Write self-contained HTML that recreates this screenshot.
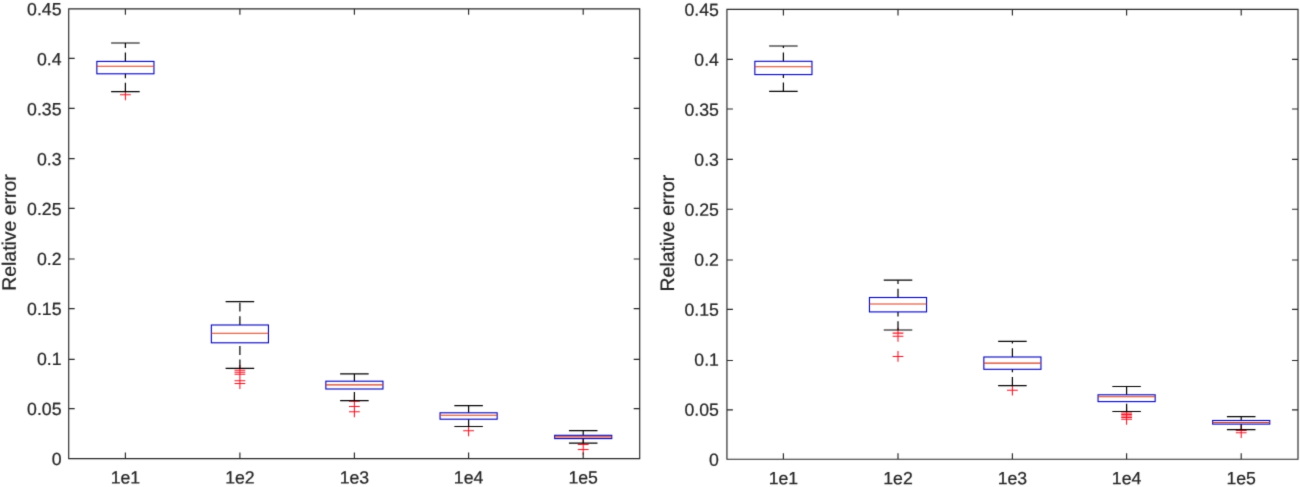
<!DOCTYPE html><html><head><meta charset="utf-8"><title>Relative error boxplots</title><style>html,body{margin:0;padding:0;background:#fff;}body{width:1300px;height:487px;overflow:hidden;}svg{display:block;}text{font-family:"Liberation Sans", Arial, Helvetica, sans-serif;fill:#242424;stroke:#242424;stroke-width:0.22px;}</style></head><body>
<svg width="1300" height="487" viewBox="0 0 1300 487">
<defs><filter id="b" x="0" y="0" width="1300" height="487" filterUnits="userSpaceOnUse" color-interpolation-filters="sRGB"><feColorMatrix in="SourceGraphic" type="matrix" values="0.299 0.587 0.114 0 0 -0.168736 -0.331264 0.5 0 0.50196 0.5 -0.418688 -0.081312 0 0.50196 0 0 0 1 0" result="ycc"/><feConvolveMatrix in="ycc" order="3" kernelMatrix="0.0144 0.0912 0.0144 0.0912 0.5776 0.0912 0.0144 0.0912 0.0144" edgeMode="duplicate" preserveAlpha="true" result="yb"/><feConvolveMatrix in="ycc" order="3" kernelMatrix="0.0625 0.1250 0.0625 0.1250 0.2500 0.1250 0.0625 0.1250 0.0625" edgeMode="duplicate" preserveAlpha="true" result="cb"/><feColorMatrix in="yb" type="matrix" values="1 0 0 0 0 0 0 0 0 0 0 0 0 0 0 0 0 0 1 0" result="y1"/><feColorMatrix in="cb" type="matrix" values="0 0 0 0 0 0 1 0 0 0 0 0 1 0 0 0 0 0 1 0" result="c1"/><feComposite in="y1" in2="c1" operator="arithmetic" k1="0" k2="1" k3="1" k4="0" result="m"/><feColorMatrix in="m" type="matrix" values="1 0 1.402 0 -0.70375 1 -0.344136 -0.714136 0 0.53121 1 1.772 0 0 -0.88947 0 0 0 1 0"/></filter></defs>
<g filter="url(#b)">
<rect x="0" y="0" width="1300" height="487" fill="#fff"/>
<g fill="none">
<path d="M120 94.8H130.8M125.4 89.4V100.2" stroke="#ff1020" stroke-width="1.05"/>
<path d="M234.5 370.3H245.3M239.9 364.9V375.7M234.5 372.2H245.3M239.9 366.8V377.6M234.5 374.3H245.3M239.9 368.9V379.7M234.5 380.8H245.3M239.9 375.4V386.2M234.5 383.5H245.3M239.9 378.1V388.9" stroke="#ff1020" stroke-width="1.05"/>
<path d="M349 401.2H359.8M354.4 395.8V406.6M349 406.5H359.8M354.4 401.1V411.9M349 411.8H359.8M354.4 406.4V417.2" stroke="#ff1020" stroke-width="1.05"/>
<path d="M463.2 430.8H474M468.6 425.4V436.2" stroke="#ff1020" stroke-width="1.05"/>
<path d="M577.8 444.5H588.6M583.2 439.1V449.9M577.8 449.4H588.6M583.2 444V454.8" stroke="#ff1020" stroke-width="1.05"/>
<path d="M125.4 61.4V43" stroke="#000" stroke-width="1.2" stroke-dasharray="8.8 4.6"/>
<path d="M125.4 91.6V73.8" stroke="#000" stroke-width="1.2" stroke-dasharray="8.8 4.6"/>
<path d="M111.12 43H139.68M111.12 91.6H139.68" stroke="#000" stroke-width="1.2"/>
<rect x="96.85" y="61.4" width="57.1" height="12.4" stroke="#0000c0" stroke-width="1.1"/>
<path d="M96.85 66.3H153.95" stroke="#dc3c1c" stroke-width="1.1"/>
<path d="M239.9 325V301.6" stroke="#000" stroke-width="1.2" stroke-dasharray="8.8 4.6"/>
<path d="M239.9 368.3V342.8" stroke="#000" stroke-width="1.2" stroke-dasharray="8.8 4.6"/>
<path d="M225.62 301.6H254.18M225.62 368.3H254.18" stroke="#000" stroke-width="1.2"/>
<rect x="211.35" y="325" width="57.1" height="17.8" stroke="#0000c0" stroke-width="1.1"/>
<path d="M211.35 333.3H268.45" stroke="#dc3c1c" stroke-width="1.1"/>
<path d="M354.4 381.2V373.9" stroke="#000" stroke-width="1.2" stroke-dasharray="8.8 4.6"/>
<path d="M354.4 400.7V389" stroke="#000" stroke-width="1.2" stroke-dasharray="8.8 4.6"/>
<path d="M340.12 373.9H368.67M340.12 400.7H368.67" stroke="#000" stroke-width="1.2"/>
<rect x="325.85" y="381.2" width="57.1" height="7.8" stroke="#0000c0" stroke-width="1.1"/>
<path d="M325.85 384.9H382.95" stroke="#dc3c1c" stroke-width="1.1"/>
<path d="M468.6 412.8V405.6" stroke="#000" stroke-width="1.2" stroke-dasharray="8.8 4.6"/>
<path d="M468.6 426.5V419.2" stroke="#000" stroke-width="1.2" stroke-dasharray="8.8 4.6"/>
<path d="M454.33 405.6H482.88M454.33 426.5H482.88" stroke="#000" stroke-width="1.2"/>
<rect x="440.05" y="412.8" width="57.1" height="6.4" stroke="#0000c0" stroke-width="1.1"/>
<path d="M440.05 415.2H497.15" stroke="#dc3c1c" stroke-width="1.1"/>
<path d="M583.2 435.3V430.7" stroke="#000" stroke-width="1.2" stroke-dasharray="8.8 4.6"/>
<path d="M583.2 443.1V438.6" stroke="#000" stroke-width="1.2" stroke-dasharray="8.8 4.6"/>
<path d="M568.93 430.7H597.48M568.93 443.1H597.48" stroke="#000" stroke-width="1.2"/>
<rect x="554.65" y="435.3" width="57.1" height="3.3" stroke="#0000c0" stroke-width="1.1"/>
<path d="M554.65 436.9H611.75" stroke="#dc3c1c" stroke-width="1.1"/>
<path d="M68.7 8.8H639.7V458.6H68.7ZM68.7 408.62H74.7M639.7 408.62H633.7M68.7 359.38H74.7M639.7 359.38H633.7M68.7 308.62H74.7M639.7 308.62H633.7M68.7 258.95H74.7M639.7 258.95H633.7M68.7 208.41H74.7M639.7 208.41H633.7M68.7 158.62H74.7M639.7 158.62H633.7M68.7 108.34H74.7M639.7 108.34H633.7M68.7 58.41H74.7M639.7 58.41H633.7M125.4 458.6V452.6M125.4 8.8V14.8M239.9 458.6V452.6M239.9 8.8V14.8M354.4 458.6V452.6M354.4 8.8V14.8M468.6 458.6V452.6M468.6 8.8V14.8M583.2 458.6V452.6M583.2 8.8V14.8" stroke="#262626" stroke-width="1.15"/>
</g>
<text x="61.5" y="465.04" font-size="17.7" text-anchor="end" transform="matrix(1 0.001 0 1 0 -0.06)">0</text>
<text x="61.5" y="415.06" font-size="17.7" text-anchor="end" transform="matrix(1 0.001 0 1 0 -0.06)">0.05</text>
<text x="61.5" y="365.08" font-size="17.7" text-anchor="end" transform="matrix(1 0.001 0 1 0 -0.06)">0.1</text>
<text x="61.5" y="315.11" font-size="17.7" text-anchor="end" transform="matrix(1 0.001 0 1 0 -0.06)">0.15</text>
<text x="61.5" y="265.13" font-size="17.7" text-anchor="end" transform="matrix(1 0.001 0 1 0 -0.06)">0.2</text>
<text x="61.5" y="215.15" font-size="17.7" text-anchor="end" transform="matrix(1 0.001 0 1 0 -0.06)">0.25</text>
<text x="61.5" y="165.17" font-size="17.7" text-anchor="end" transform="matrix(1 0.001 0 1 0 -0.06)">0.3</text>
<text x="61.5" y="115.19" font-size="17.7" text-anchor="end" transform="matrix(1 0.001 0 1 0 -0.06)">0.35</text>
<text x="61.5" y="65.22" font-size="17.7" text-anchor="end" transform="matrix(1 0.001 0 1 0 -0.06)">0.4</text>
<text x="61.5" y="15.24" font-size="17.7" text-anchor="end" transform="matrix(1 0.001 0 1 0 -0.06)">0.45</text>
<text x="125.4" y="483.49" font-size="17.7" text-anchor="middle" transform="matrix(1 0.001 0 1 0 -0.13)">1e1</text>
<text x="239.9" y="483.49" font-size="17.7" text-anchor="middle" transform="matrix(1 0.001 0 1 0 -0.24)">1e2</text>
<text x="354.4" y="483.49" font-size="17.7" text-anchor="middle" transform="matrix(1 0.001 0 1 0 -0.35)">1e3</text>
<text x="468.6" y="483.49" font-size="17.7" text-anchor="middle" transform="matrix(1 0.001 0 1 0 -0.47)">1e4</text>
<text x="583.2" y="483.49" font-size="17.7" text-anchor="middle" transform="matrix(1 0.001 0 1 0 -0.58)">1e5</text>
<text transform="matrix(0.001 -1 1 0.001 15.8 232.5)" font-size="19.45" text-anchor="middle">Relative error</text>
<g fill="none">
<path d="M892.6 333.1H903.4M898 327.7V338.5M892.6 336.3H903.4M898 330.9V341.7M892.6 356.4H903.4M898 351V361.8" stroke="#ff1020" stroke-width="1.05"/>
<path d="M1007 390.2H1017.8M1012.4 384.8V395.6" stroke="#ff1020" stroke-width="1.05"/>
<path d="M1121.2 413H1132M1126.6 407.6V418.4M1121.2 414.5H1132M1126.6 409.1V419.9M1121.2 416H1132M1126.6 410.6V421.4M1121.2 417.5H1132M1126.6 412.1V422.9M1121.2 419.3H1132M1126.6 413.9V424.7" stroke="#ff1020" stroke-width="1.05"/>
<path d="M1235.8 430.5H1246.6M1241.2 425.1V435.9M1235.8 432.7H1246.6M1241.2 427.3V438.1" stroke="#ff1020" stroke-width="1.05"/>
<path d="M783.4 61.3V46" stroke="#000" stroke-width="1.2" stroke-dasharray="8.8 4.6"/>
<path d="M783.4 91.4V74.6" stroke="#000" stroke-width="1.2" stroke-dasharray="8.8 4.6"/>
<path d="M769.12 46H797.68M769.12 91.4H797.68" stroke="#000" stroke-width="1.2"/>
<rect x="754.85" y="61.3" width="57.11" height="13.3" stroke="#0000c0" stroke-width="1.1"/>
<path d="M754.85 66.8H811.95" stroke="#dc3c1c" stroke-width="1.1"/>
<path d="M898 297.5V280.2" stroke="#000" stroke-width="1.2" stroke-dasharray="8.8 4.6"/>
<path d="M898 330V311.9" stroke="#000" stroke-width="1.2" stroke-dasharray="8.8 4.6"/>
<path d="M883.72 280.2H912.28M883.72 330H912.28" stroke="#000" stroke-width="1.2"/>
<rect x="869.45" y="297.5" width="57.11" height="14.4" stroke="#0000c0" stroke-width="1.1"/>
<path d="M869.45 304H926.55" stroke="#dc3c1c" stroke-width="1.1"/>
<path d="M1012.4 357V341.3" stroke="#000" stroke-width="1.2" stroke-dasharray="8.8 4.6"/>
<path d="M1012.4 385.7V369.3" stroke="#000" stroke-width="1.2" stroke-dasharray="8.8 4.6"/>
<path d="M998.12 341.3H1026.68M998.12 385.7H1026.68" stroke="#000" stroke-width="1.2"/>
<rect x="983.85" y="357" width="57.11" height="12.3" stroke="#0000c0" stroke-width="1.1"/>
<path d="M983.85 363.1H1040.95" stroke="#dc3c1c" stroke-width="1.1"/>
<path d="M1126.6 394.8V386.5" stroke="#000" stroke-width="1.2" stroke-dasharray="8.8 4.6"/>
<path d="M1126.6 411.5V401.6" stroke="#000" stroke-width="1.2" stroke-dasharray="8.8 4.6" stroke-dashoffset="1.1"/>
<path d="M1112.32 386.5H1140.88M1112.32 411.5H1140.88" stroke="#000" stroke-width="1.2"/>
<rect x="1098.05" y="394.8" width="57.11" height="6.8" stroke="#0000c0" stroke-width="1.1"/>
<path d="M1098.05 396.8H1155.15" stroke="#dc3c1c" stroke-width="1.1"/>
<path d="M1241.2 420.5V416.6" stroke="#000" stroke-width="1.2" stroke-dasharray="8.8 4.6"/>
<path d="M1241.2 429.6V424.1" stroke="#000" stroke-width="1.2" stroke-dasharray="8.8 4.6"/>
<path d="M1226.92 416.6H1255.48M1226.92 429.6H1255.48" stroke="#000" stroke-width="1.2"/>
<rect x="1212.65" y="420.5" width="57.11" height="3.6" stroke="#0000c0" stroke-width="1.1"/>
<path d="M1212.65 422.5H1269.75" stroke="#dc3c1c" stroke-width="1.1"/>
<path d="M726.93 9.44H1298V459.29H726.93ZM726.93 409.85H732.93M1298 409.85H1292M726.93 360.47H732.93M1298 360.47H1292M726.93 309.44H732.93M1298 309.44H1292M726.93 259.95H732.93M1298 259.95H1292M726.93 209.24H732.93M1298 209.24H1292M726.93 159.44H732.93M1298 159.44H1292M726.93 109.03H732.93M1298 109.03H1292M726.93 59.38H732.93M1298 59.38H1292M783.4 459.29V453.29M783.4 9.44V15.44M898 459.29V453.29M898 9.44V15.44M1012.4 459.29V453.29M1012.4 9.44V15.44M1126.6 459.29V453.29M1126.6 9.44V15.44M1241.2 459.29V453.29M1241.2 9.44V15.44" stroke="#262626" stroke-width="1.15"/>
</g>
<text x="718.93" y="465.73" font-size="17.7" text-anchor="end" transform="matrix(1 0.001 0 1 0 -0.72)">0</text>
<text x="718.93" y="415.75" font-size="17.7" text-anchor="end" transform="matrix(1 0.001 0 1 0 -0.72)">0.05</text>
<text x="718.93" y="365.76" font-size="17.7" text-anchor="end" transform="matrix(1 0.001 0 1 0 -0.72)">0.1</text>
<text x="718.93" y="315.78" font-size="17.7" text-anchor="end" transform="matrix(1 0.001 0 1 0 -0.72)">0.15</text>
<text x="718.93" y="265.8" font-size="17.7" text-anchor="end" transform="matrix(1 0.001 0 1 0 -0.72)">0.2</text>
<text x="718.93" y="215.81" font-size="17.7" text-anchor="end" transform="matrix(1 0.001 0 1 0 -0.72)">0.25</text>
<text x="718.93" y="165.83" font-size="17.7" text-anchor="end" transform="matrix(1 0.001 0 1 0 -0.72)">0.3</text>
<text x="718.93" y="115.85" font-size="17.7" text-anchor="end" transform="matrix(1 0.001 0 1 0 -0.72)">0.35</text>
<text x="718.93" y="65.86" font-size="17.7" text-anchor="end" transform="matrix(1 0.001 0 1 0 -0.72)">0.4</text>
<text x="718.93" y="15.88" font-size="17.7" text-anchor="end" transform="matrix(1 0.001 0 1 0 -0.72)">0.45</text>
<text x="783.4" y="484.18" font-size="17.7" text-anchor="middle" transform="matrix(1 0.001 0 1 0 -0.78)">1e1</text>
<text x="898" y="484.18" font-size="17.7" text-anchor="middle" transform="matrix(1 0.001 0 1 0 -0.9)">1e2</text>
<text x="1012.4" y="484.18" font-size="17.7" text-anchor="middle" transform="matrix(1 0.001 0 1 0 -1.01)">1e3</text>
<text x="1126.6" y="484.18" font-size="17.7" text-anchor="middle" transform="matrix(1 0.001 0 1 0 -1.13)">1e4</text>
<text x="1241.2" y="484.18" font-size="17.7" text-anchor="middle" transform="matrix(1 0.001 0 1 0 -1.24)">1e5</text>
<text transform="matrix(0.001 -1 1 0.001 674.03 233.14)" font-size="19.45" text-anchor="middle">Relative error</text>
</g>
</svg></body></html>
